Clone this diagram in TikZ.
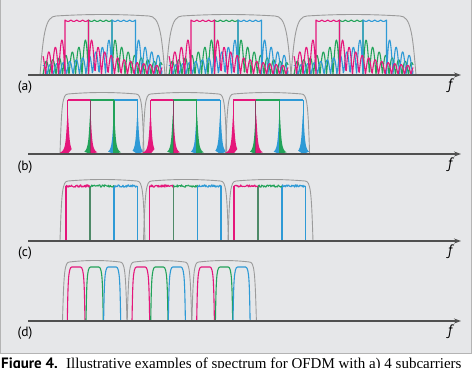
\documentclass[tikz,border=0pt]{standalone}
\usepackage{fontspec}
\setmainfont{Liberation Serif}
\newfontfamily\labfont{PT Sans}
\usetikzlibrary{arrows.meta}
\definecolor{pk}{HTML}{E5177B}
\definecolor{gn}{HTML}{22A35A}
\definecolor{bl}{HTML}{2E9AD6}
\definecolor{envc}{HTML}{9B9B9B}
\definecolor{bgc}{HTML}{E6E7E9}
\definecolor{axc}{HTML}{505050}
\definecolor{mix}{HTML}{8A3D63}
\definecolor{dgn}{HTML}{4E8A68}
\definecolor{bordc}{HTML}{B4B4B4}

% envelope: x0, x1, base, top, corner
\newcommand{\envpath}[5]{%
 \draw[envl] (#1,#3) .. controls ({#1+0.2*#5},{#4+1.3*#5}) and ({#1+0.3*#5},#4) .. ({#1+#5},#4)
  .. controls ({#1+#5+(#2-#1-2*#5)/3},{#4-2}) and ({#2-#5-(#2-#1-2*#5)/3},{#4-2}) .. ({#2-#5},#4)
  .. controls ({#2-0.3*#5},#4) and ({#2-0.2*#5},{#4+1.3*#5}) .. (#2,#3);}

% panel (a) subcarrier: L, a, b, R, colour
\newcommand{\subA}[5]{%
 \draw[#5,sl] plot[domain=#1:#2,samples=120] (\x,{75-40/(1+(#2-\x)/22)*abs(sin(27.69*(#2-\x)))})
  -- (#2,20) -- plot[domain=#2:#3,samples=50] (\x,{20+1.4*abs(sin(720/(#3-#2)*(\x-#2)))})
  -- (#3,75) -- plot[domain=#3:#4,samples=120] (\x,{75-40/(1+(\x-#3)/22)*abs(sin(27.69*(\x-#3)))});}

\newcommand{\groupA}{%
 \envpath{40}{165}{75}{16}{16}
 \subA{43}{88.5}{112}{162}{gn}
 \subA{43}{112}{135.5}{162}{bl}
 \subA{43}{65}{88.5}{162}{pk}}

% panel (b): half spike colour, centre, from, to
\newcommand{\hspikeB}[4]{%
 \fill[#1] plot[domain=#3:#4,samples=40] ({#2+\x},{154-40/(1+\x*\x/2.25)}) -- ({#2},154) -- cycle;}

\newcommand{\groupB}{%
 \envpath{60}{144}{154}{94}{8}
 \draw[pk,sl] (67.7,100) -- (90.3,100);
 \draw[gn,sl] (90.3,100) -- (114,100);
 \draw[bl,sl] (114,100) -- (137.5,100);
 \hspikeB{pk}{67.7}{-8}{0}\hspikeB{pk}{67.7}{0}{4}
 \hspikeB{gn}{90.3}{-6}{0}\hspikeB{pk}{90.3}{0}{7}
 \hspikeB{bl}{114}{-6}{0}\hspikeB{gn}{114}{0}{7}
 \hspikeB{bl}{137.5}{-5}{0}\hspikeB{bl}{137.5}{0}{6}
 \draw[pk,sl] (67.7,154) -- (67.7,100);
 \draw[mix,sl] (90.3,154) -- (90.3,100);
 \draw[gn,sl] (114,154) -- (114,100);
 \draw[bl,sl] (137.5,154) -- (137.5,100);}

% panel (c)
\newcommand{\groupC}{%
 \envpath{60}{145}{241}{181}{8}
 \draw[pk,sl] (66,241) -- (66,186);
 \draw[dgn,sl] (90,241) -- (90,186);
 \draw[bl,sl] (114,241) -- (114,186);
 \draw[bl,sl] (137.5,241) -- (137.5,186);
 \draw[pk,sl] plot[domain=66:90,samples=40] (\x,{186+1.2*rand});
 \draw[gn,sl] plot[domain=90:114,samples=40] (\x,{186+1.2*rand});
 \draw[bl,sl] plot[domain=114:137.5,samples=40] (\x,{186+1.2*rand});}

% panel (d)
\newcommand{\ushp}[3]{%
 \draw[#1,sl] (#2,321) .. controls ({#2+0.7},285) and ({#2+0.8},267) .. ({#2+4.5},267)
  -- ({#3-4.5},267) .. controls ({#3-0.8},267) and ({#3-0.7},285) .. (#3,321);}
\newcommand{\groupD}{%
 \envpath{62.5}{127}{321}{262}{7}
 \ushp{pk}{67.3}{85}
 \ushp{gn}{86}{103.3}
 \ushp{bl}{103.6}{120.7}}

\begin{document}
\begin{tikzpicture}[x=1pt,y=-1pt,
  envl/.style={draw=envc,line width=0.9pt},
  sl/.style={line width=1.1pt,line join=round},
  axisl/.style={draw=axc,line width=1.6pt,-{Stealth[length=7pt,width=5pt]}},
  lab/.style={font=\labfont\fontsize{13.5}{15}\selectfont, inner sep=0},
  flab/.style={font=\labfont\itshape\fontsize{15}{17}\selectfont, inner sep=0}]
\useasboundingbox (0,0) rectangle (474,367);
\clip (0,0) rectangle (474,367);
\pgfmathsetseed{7}
\fill[bgc] (0,0) rectangle (471,353);
\draw[bordc,line width=1pt] (0.5,-2) -- (0.5,353) -- (471,353) -- (471,-2);

% (a)
\foreach \s in {0,126,251}{\begin{scope}[xshift=\s pt]\groupA\end{scope}}
\draw[axisl] (28,75) -- (461,75);
% (b)
\foreach \s in {0,82.8,165.6}{\begin{scope}[xshift=\s pt]\groupB\end{scope}}
\draw[axisl] (28,154) -- (461,154);
% (c)
\foreach \s in {0,83.5,168}{\begin{scope}[xshift=\s pt]\groupC\end{scope}}
\draw[axisl] (28,241) -- (461,241);
% (d)
\foreach \s in {0,64.7,129.4}{\begin{scope}[xshift=\s pt]\groupD\end{scope}}
\draw[axisl] (28,321) -- (461,321);

\node[lab] (la) at (25,87) {(a)};
\node[lab] (lb) at (25,167) {(b)};
\node[lab] (lc) at (25,253) {(c)};
\node[lab] (ld) at (25,333) {(d)};
\node[flab] (fa) at (450,86) {f};
\node[flab] (fb) at (450,165) {f};
\node[flab] (fc) at (450,252) {f};
\node[flab] (fd) at (450,332) {f};

\node[anchor=base west,inner sep=0,font=\labfont\bfseries\fontsize{15}{17}\selectfont] (capa) at (1,368.5) {Figure 4.};
\node[anchor=base west,inner sep=0,font=\fontsize{15}{17}\selectfont] (capb) at (66,368.5) {Illustrative examples of spectrum for OFDM with a) 4 subcarriers};
\end{tikzpicture}
\end{document}
